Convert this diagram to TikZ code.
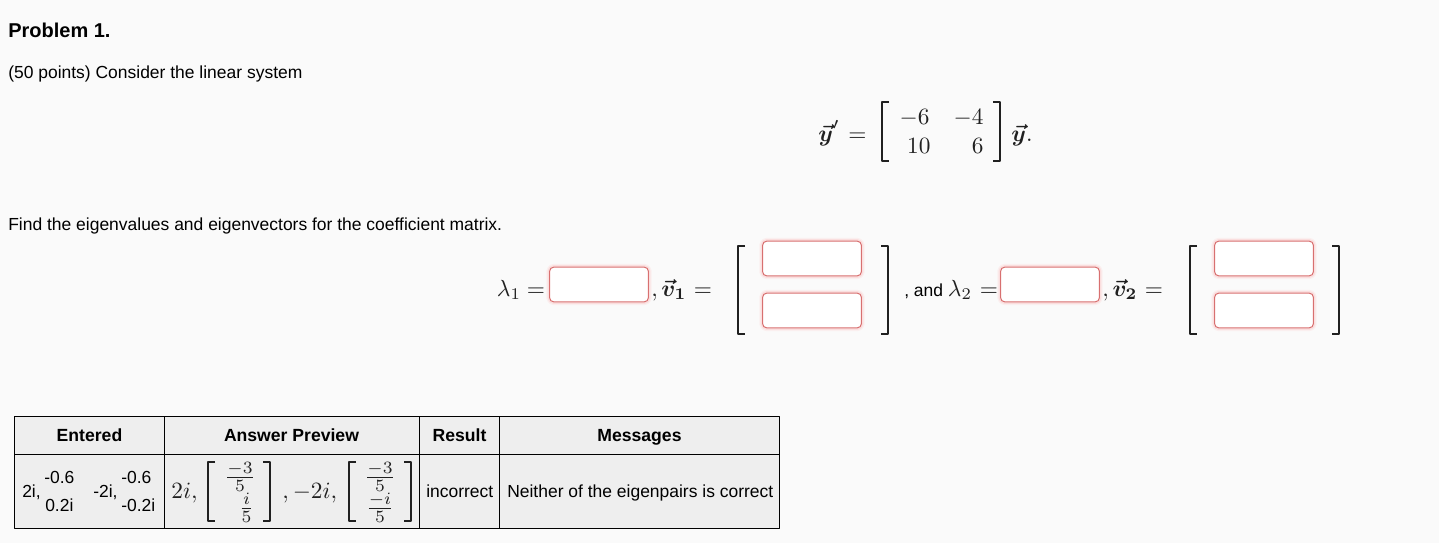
\documentclass[tikz,border=0pt]{standalone}
\usepackage[no-math]{fontspec}
\usepackage{amsmath}
\usepackage{amssymb}
\newfontfamily\arialfont{Liberation Sans}
\definecolor{pagebg}{HTML}{FAFAFA}
\definecolor{cellbg}{HTML}{EEEEEE}
\definecolor{boxred}{HTML}{D87070}
\definecolor{mathgray}{HTML}{202020}
\tikzset{
	sans/.style = {anchor=base west, inner sep=0pt, text=black, font=\arialfont\fontsize{13.1}{15}\selectfont},
	head/.style = {anchor=base, inner sep=0pt, text=black, font=\arialfont\bfseries\fontsize{13.2}{15}\selectfont},
	bigmath/.style = {anchor=base west, inner sep=0pt, text=mathgray, scale=1.75},
	fracmath/.style = {inner sep=0pt, text=mathgray, scale=1.85},
	brk/.style = {draw=mathgray, line width=1pt, line cap=butt},
	ansbox/.style = {draw=boxred, fill=white, rounded corners=3pt, line width=.75pt,
		minimum width=74pt, minimum height=26pt, inner sep=0pt,
		preaction={draw=red!70, opacity=.06, line width=5pt},
		preaction={draw=red!70, opacity=.10, line width=3pt}}
}
\newcommand{\leftbrk}[3]{\draw[brk] (#1+7,#2) -- (#1,#2) -- (#1,#3) -- (#1+7,#3);}
\newcommand{\rightbrk}[3]{\draw[brk] (#1-7,#2) -- (#1,#2) -- (#1,#3) -- (#1-7,#3);}
\begin{document}
\begin{tikzpicture}[x=.75pt, y=-.75pt, line join=round]
	\fill[pagebg] (0,0) rectangle (1439,543);
	\useasboundingbox (0,0) rectangle (1439,543);
	\node[sans, font=\arialfont\bfseries\fontsize{15}{18}\selectfont] (title) at (8,37) {Problem 1.};
	\node[sans] (intro) at (8,78) {(50 points) Consider the linear system};
	\node[sans] (find) at (8,230) {Find the eigenvalues and eigenvectors for the coefficient matrix.};
	% system
	\node[bigmath] (yprime) at (818,141) {$\boldsymbol{\vec{y}}'$};
	\node[bigmath] (eqa) at (848,141) {$=$};
	\leftbrk{882}{102}{161}
	\node[bigmath, anchor=base east] (ma) at (930,124) {$-6$};
	\node[bigmath, anchor=base east] (mb) at (984,124) {$-4$};
	\node[bigmath, anchor=base east] (mc) at (931,153) {$10$};
	\node[bigmath, anchor=base east] (md) at (984,153) {$6$};
	\rightbrk{1000}{102}{161}
	\node[bigmath] (yend) at (1011,141) {$\boldsymbol{\vec{y}}.$};
	% answer line
	\node[bigmath] (laa) at (496.5,296) {$\lambda_1$};
	\node[bigmath] (eqb) at (526.5,296) {$=$};
	\node[ansbox] (boxa) at (599,284.5) {};
	\node[bigmath] (coa) at (651,296) {$,$};
	\node[bigmath] (va) at (661,296) {$\boldsymbol{\vec{v}_1}$};
	\node[bigmath] (eqc) at (693.5,296) {$=$};
	\leftbrk{738}{246}{334}
	\node[ansbox] (boxb) at (812,258.5) {};
	\node[ansbox] (boxc) at (812,310.5) {};
	\rightbrk{888}{246}{334}
	\node[sans] (and) at (904,296) {, and};
	\node[bigmath] (lab) at (947.5,296) {$\lambda_2$};
	\node[bigmath] (eqd) at (979.5,296) {$=$};
	\node[ansbox] (boxd) at (1050,284.5) {};
	\node[bigmath] (cob) at (1102,296) {$,$};
	\node[bigmath] (vb) at (1112,296) {$\boldsymbol{\vec{v}_2}$};
	\node[bigmath] (eqe) at (1144.5,296) {$=$};
	\leftbrk{1190}{246}{334}
	\node[ansbox] (boxe) at (1264,258.5) {};
	\node[ansbox] (boxf) at (1264,310.5) {};
	\rightbrk{1339}{246}{334}
	% table
	\draw[fill=cellbg, line width=.75pt] (14,416) rectangle (779,528);
	\draw[line width=.75pt] (14,454) -- (779,454);
	\foreach \colx in {164,419,499}
		\draw[line width=.75pt] (\colx,416) -- (\colx,528);
	\node[head] (heada) at (89.5,441) {Entered};
	\node[head] (headb) at (291.5,441) {Answer Preview};
	\node[head] (headc) at (459.5,441) {Result};
	\node[head] (headd) at (639.5,441) {Messages};
	\node[sans] (enta) at (22,497) {2i,};
	\node[sans] (entb) at (44,483) {-0.6};
	\node[sans] (entc) at (45,511.5) {0.2i};
	\node[sans] (entd) at (93,497) {-2i,};
	\node[sans] (ente) at (121,483) {-0.6};
	\node[sans] (entf) at (121,511.5) {-0.2i};
	\node[bigmath] (preva) at (171,498) {$2i,$};
	\leftbrk{208}{462}{521}
	\node[fracmath] (fra) at (240,477) {$\frac{-3}{5}$};
	\node[fracmath] (frb) at (246.5,508) {$\frac{i}{5}$};
	\rightbrk{270}{462}{521}
	\node[bigmath] (prevb) at (282,498) {$,-2i,$};
	\leftbrk{349}{462}{521}
	\node[fracmath] (frc) at (380,477) {$\frac{-3}{5}$};
	\node[fracmath] (frd) at (380,508) {$\frac{-i}{5}$};
	\rightbrk{411}{462}{521}
	\node[sans] (res) at (426,497) {incorrect};
	\node[sans] (msg) at (507,497) {Neither of the eigenpairs is correct};
\end{tikzpicture}
\end{document}
